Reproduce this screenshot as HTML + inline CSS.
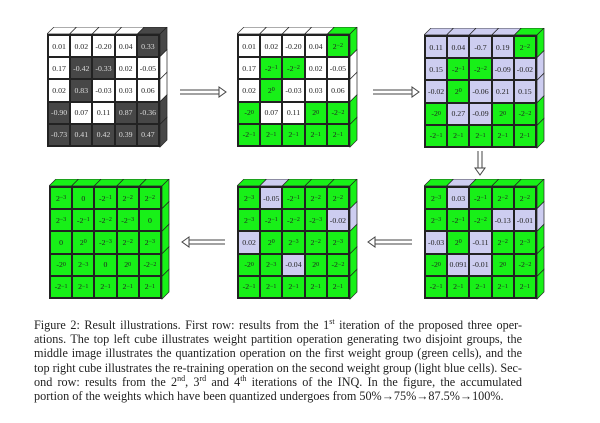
<!DOCTYPE html>
<html><head><meta charset="utf-8"><style>
body{margin:0;background:#fff;width:600px;height:423px;position:relative;overflow:hidden;font-family:"Liberation Serif",serif}
.cube{position:absolute;width:120px;height:120px}
.cube svg{position:absolute;left:0;top:0}
.front{position:absolute;left:0;top:7px;width:113px;height:113px;display:grid;grid-template-columns:repeat(5,1fr);grid-template-rows:repeat(5,1fr);border:1px solid #222;box-sizing:border-box}
.front div{border:0.5px solid #222;display:flex;align-items:center;justify-content:center;font-size:7.8px;color:#222;white-space:nowrap}
.front sup{font-size:6px;vertical-align:4px}
.w{background:#fff}.k{background:#474747;color:#ddd!important}.g{background:#18f018}.b{background:#cdcdf0}
.cap{position:absolute;left:34px;top:318px;width:488px;font-size:12.2px;line-height:14.2px;color:#222;word-spacing:-0.8px}
.cap div{text-align:justify;text-align-last:justify;white-space:nowrap}
.cap div.last{text-align-last:left;word-spacing:0}
.cap sup{font-size:8px;line-height:0;vertical-align:5px}
</style></head><body>

<svg width="600" height="310" style="position:absolute;left:0;top:0" fill="none" stroke="#444" stroke-width="1">
<path d="M180 90H220M180 94H220"/><path d="M219 87L226 92L219 97Z" fill="#fff"/>
<path d="M373 90H413M373 94H413"/><path d="M412 87L419 92L412 97Z" fill="#fff"/>
<path d="M478 151V169M482 151V169"/><path d="M475 168L480 175L485 168Z" fill="#fff"/>
<path d="M188 240H225M188 244H225"/><path d="M189 237L182 242L189 247Z" fill="#fff"/>
<path d="M374 240H412M374 244H412"/><path d="M375 237L368 242L375 247Z" fill="#fff"/>
</svg>

<div class="cube" style="left:47px;top:27px">
<svg width="121" height="121" stroke="#222" stroke-width="0.7">
<polygon points="0,7 22.6,7 29.6,0 7,0" fill="#fff"/><polygon points="22.6,7 45.2,7 52.2,0 29.6,0" fill="#fff"/><polygon points="45.2,7 67.8,7 74.8,0 52.2,0" fill="#fff"/><polygon points="67.8,7 90.4,7 97.4,0 74.8,0" fill="#fff"/><polygon points="90.4,7 113,7 120,0 97.4,0" fill="#474747"/>
<polygon points="113,7 120,0 120,22.6 113,29.6" fill="#474747"/><polygon points="113,29.6 120,22.6 120,45.2 113,52.2" fill="#fff"/><polygon points="113,52.2 120,45.2 120,67.8 113,74.8" fill="#fff"/><polygon points="113,74.8 120,67.8 120,90.4 113,97.4" fill="#474747"/><polygon points="113,97.4 120,90.4 120,113 113,120" fill="#474747"/>
</svg>
<div class="front">
<div class="w">0.01</div><div class="w">0.02</div><div class="w">-0.20</div><div class="w">0.04</div><div class="k">0.33</div>
<div class="w">0.17</div><div class="k">-0.42</div><div class="k">-0.33</div><div class="w">0.02</div><div class="w">-0.05</div>
<div class="w">0.02</div><div class="k">0.83</div><div class="w">-0.03</div><div class="w">0.03</div><div class="w">0.06</div>
<div class="k">-0.90</div><div class="w">0.07</div><div class="w">0.11</div><div class="k">0.87</div><div class="k">-0.36</div>
<div class="k">-0.73</div><div class="k">0.41</div><div class="k">0.42</div><div class="k">0.39</div><div class="k">0.47</div>
</div></div>

<div class="cube" style="left:237px;top:27px">
<svg width="121" height="121" stroke="#222" stroke-width="0.7">
<polygon points="0,7 22.6,7 29.6,0 7,0" fill="#fff"/><polygon points="22.6,7 45.2,7 52.2,0 29.6,0" fill="#fff"/><polygon points="45.2,7 67.8,7 74.8,0 52.2,0" fill="#fff"/><polygon points="67.8,7 90.4,7 97.4,0 74.8,0" fill="#fff"/><polygon points="90.4,7 113,7 120,0 97.4,0" fill="#18f018"/>
<polygon points="113,7 120,0 120,22.6 113,29.6" fill="#18f018"/><polygon points="113,29.6 120,22.6 120,45.2 113,52.2" fill="#fff"/><polygon points="113,52.2 120,45.2 120,67.8 113,74.8" fill="#fff"/><polygon points="113,74.8 120,67.8 120,90.4 113,97.4" fill="#18f018"/><polygon points="113,97.4 120,90.4 120,113 113,120" fill="#18f018"/>
</svg>
<div class="front">
<div class="w">0.01</div><div class="w">0.02</div><div class="w">-0.20</div><div class="w">0.04</div><div class="g">2<sup>−2</sup></div>
<div class="w">0.17</div><div class="g">-2<sup>−1</sup></div><div class="g">-2<sup>−2</sup></div><div class="w">0.02</div><div class="w">-0.05</div>
<div class="w">0.02</div><div class="g">2<sup>0</sup></div><div class="w">-0.03</div><div class="w">0.03</div><div class="w">0.06</div>
<div class="g">-2<sup>0</sup></div><div class="w">0.07</div><div class="w">0.11</div><div class="g">2<sup>0</sup></div><div class="g">-2<sup>−2</sup></div>
<div class="g">-2<sup>−1</sup></div><div class="g">2<sup>−1</sup></div><div class="g">2<sup>−1</sup></div><div class="g">2<sup>−1</sup></div><div class="g">2<sup>−1</sup></div>
</div></div>

<div class="cube" style="left:424px;top:28px">
<svg width="121" height="121" stroke="#222" stroke-width="0.7">
<polygon points="0,7 22.6,7 29.6,0 7,0" fill="#cdcdf0"/><polygon points="22.6,7 45.2,7 52.2,0 29.6,0" fill="#cdcdf0"/><polygon points="45.2,7 67.8,7 74.8,0 52.2,0" fill="#cdcdf0"/><polygon points="67.8,7 90.4,7 97.4,0 74.8,0" fill="#cdcdf0"/><polygon points="90.4,7 113,7 120,0 97.4,0" fill="#18f018"/>
<polygon points="113,7 120,0 120,22.6 113,29.6" fill="#18f018"/><polygon points="113,29.6 120,22.6 120,45.2 113,52.2" fill="#cdcdf0"/><polygon points="113,52.2 120,45.2 120,67.8 113,74.8" fill="#cdcdf0"/><polygon points="113,74.8 120,67.8 120,90.4 113,97.4" fill="#18f018"/><polygon points="113,97.4 120,90.4 120,113 113,120" fill="#18f018"/>
</svg>
<div class="front">
<div class="b">0.11</div><div class="b">0.04</div><div class="b">-0.7</div><div class="b">0.19</div><div class="g">2<sup>−2</sup></div>
<div class="b">0.15</div><div class="g">-2<sup>−1</sup></div><div class="g">-2<sup>−2</sup></div><div class="b">-0.09</div><div class="b">-0.02</div>
<div class="b">-0.02</div><div class="g">2<sup>0</sup></div><div class="b">-0.06</div><div class="b">0.21</div><div class="b">0.15</div>
<div class="g">-2<sup>0</sup></div><div class="b">0.27</div><div class="b">-0.09</div><div class="g">2<sup>0</sup></div><div class="g">-2<sup>−2</sup></div>
<div class="g">-2<sup>−1</sup></div><div class="g">2<sup>−1</sup></div><div class="g">2<sup>−1</sup></div><div class="g">2<sup>−1</sup></div><div class="g">2<sup>−1</sup></div>
</div></div>

<div class="cube" style="left:49px;top:179px">
<svg width="121" height="121" stroke="#222" stroke-width="0.7" fill="#18f018">
<polygon points="0,7 22.6,7 29.6,0 7,0"/><polygon points="22.6,7 45.2,7 52.2,0 29.6,0"/><polygon points="45.2,7 67.8,7 74.8,0 52.2,0"/><polygon points="67.8,7 90.4,7 97.4,0 74.8,0"/><polygon points="90.4,7 113,7 120,0 97.4,0"/>
<polygon points="113,7 120,0 120,22.6 113,29.6"/><polygon points="113,29.6 120,22.6 120,45.2 113,52.2"/><polygon points="113,52.2 120,45.2 120,67.8 113,74.8"/><polygon points="113,74.8 120,67.8 120,90.4 113,97.4"/><polygon points="113,97.4 120,90.4 120,113 113,120"/>
</svg>
<div class="front">
<div class="g">2<sup>−3</sup></div><div class="g">0</div><div class="g">-2<sup>−1</sup></div><div class="g">2<sup>−2</sup></div><div class="g">2<sup>−2</sup></div>
<div class="g">2<sup>−3</sup></div><div class="g">-2<sup>−1</sup></div><div class="g">-2<sup>−2</sup></div><div class="g">-2<sup>−3</sup></div><div class="g">0</div>
<div class="g">0</div><div class="g">2<sup>0</sup></div><div class="g">-2<sup>−3</sup></div><div class="g">2<sup>−2</sup></div><div class="g">2<sup>−3</sup></div>
<div class="g">-2<sup>0</sup></div><div class="g">2<sup>−3</sup></div><div class="g">0</div><div class="g">2<sup>0</sup></div><div class="g">-2<sup>−2</sup></div>
<div class="g">-2<sup>−1</sup></div><div class="g">2<sup>−1</sup></div><div class="g">2<sup>−1</sup></div><div class="g">2<sup>−1</sup></div><div class="g">2<sup>−1</sup></div>
</div></div>

<div class="cube" style="left:237px;top:179px">
<svg width="121" height="121" stroke="#222" stroke-width="0.7" fill="#18f018">
<polygon points="0,7 22.6,7 29.6,0 7,0"/><polygon points="22.6,7 45.2,7 52.2,0 29.6,0" fill="#cdcdf0"/><polygon points="45.2,7 67.8,7 74.8,0 52.2,0"/><polygon points="67.8,7 90.4,7 97.4,0 74.8,0"/><polygon points="90.4,7 113,7 120,0 97.4,0"/>
<polygon points="113,7 120,0 120,22.6 113,29.6"/><polygon points="113,29.6 120,22.6 120,45.2 113,52.2" fill="#cdcdf0"/><polygon points="113,52.2 120,45.2 120,67.8 113,74.8"/><polygon points="113,74.8 120,67.8 120,90.4 113,97.4"/><polygon points="113,97.4 120,90.4 120,113 113,120"/>
</svg>
<div class="front">
<div class="g">2<sup>−3</sup></div><div class="b">-0.05</div><div class="g">-2<sup>−1</sup></div><div class="g">2<sup>−2</sup></div><div class="g">2<sup>−2</sup></div>
<div class="g">2<sup>−3</sup></div><div class="g">-2<sup>−1</sup></div><div class="g">-2<sup>−2</sup></div><div class="g">-2<sup>−3</sup></div><div class="b">-0.02</div>
<div class="b">0.02</div><div class="g">2<sup>0</sup></div><div class="g">2<sup>−3</sup></div><div class="g">2<sup>−2</sup></div><div class="g">2<sup>−3</sup></div>
<div class="g">-2<sup>0</sup></div><div class="g">2<sup>−3</sup></div><div class="b">-0.04</div><div class="g">2<sup>0</sup></div><div class="g">-2<sup>−2</sup></div>
<div class="g">-2<sup>−1</sup></div><div class="g">2<sup>−1</sup></div><div class="g">2<sup>−1</sup></div><div class="g">2<sup>−1</sup></div><div class="g">2<sup>−1</sup></div>
</div></div>

<div class="cube" style="left:424px;top:179px">
<svg width="121" height="121" stroke="#222" stroke-width="0.7" fill="#18f018">
<polygon points="0,7 22.6,7 29.6,0 7,0"/><polygon points="22.6,7 45.2,7 52.2,0 29.6,0" fill="#cdcdf0"/><polygon points="45.2,7 67.8,7 74.8,0 52.2,0"/><polygon points="67.8,7 90.4,7 97.4,0 74.8,0"/><polygon points="90.4,7 113,7 120,0 97.4,0"/>
<polygon points="113,7 120,0 120,22.6 113,29.6"/><polygon points="113,29.6 120,22.6 120,45.2 113,52.2" fill="#cdcdf0"/><polygon points="113,52.2 120,45.2 120,67.8 113,74.8"/><polygon points="113,74.8 120,67.8 120,90.4 113,97.4"/><polygon points="113,97.4 120,90.4 120,113 113,120"/>
</svg>
<div class="front">
<div class="g">2<sup>−3</sup></div><div class="b">0.03</div><div class="g">-2<sup>−1</sup></div><div class="g">2<sup>−2</sup></div><div class="g">2<sup>−2</sup></div>
<div class="g">2<sup>−3</sup></div><div class="g">-2<sup>−1</sup></div><div class="g">-2<sup>−2</sup></div><div class="b">-0.13</div><div class="b">-0.01</div>
<div class="b">-0.03</div><div class="g">2<sup>0</sup></div><div class="b">-0.11</div><div class="g">2<sup>−2</sup></div><div class="g">2<sup>−3</sup></div>
<div class="g">-2<sup>0</sup></div><div class="b">0.091</div><div class="b">-0.01</div><div class="g">2<sup>0</sup></div><div class="g">-2<sup>−2</sup></div>
<div class="g">-2<sup>−1</sup></div><div class="g">2<sup>−1</sup></div><div class="g">2<sup>−1</sup></div><div class="g">2<sup>−1</sup></div><div class="g">2<sup>−1</sup></div>
</div></div>

<div class="cap">
<div>Figure 2: Result illustrations. First row: results from the 1<sup>st</sup> iteration of the proposed three oper-</div>
<div>ations. The top left cube illustrates weight partition operation generating two disjoint groups, the</div>
<div>middle image illustrates the quantization operation on the first weight group (green cells), and the</div>
<div>top right cube illustrates the re-training operation on the second weight group (light blue cells). Sec-</div>
<div>ond row: results from the 2<sup>nd</sup>, 3<sup>rd</sup> and 4<sup>th</sup> iterations of the INQ. In the figure, the accumulated</div>
<div class="last">portion of the weights which have been quantized undergoes from 50%→75%→87.5%→100%.</div>
</div>
</body></html>
